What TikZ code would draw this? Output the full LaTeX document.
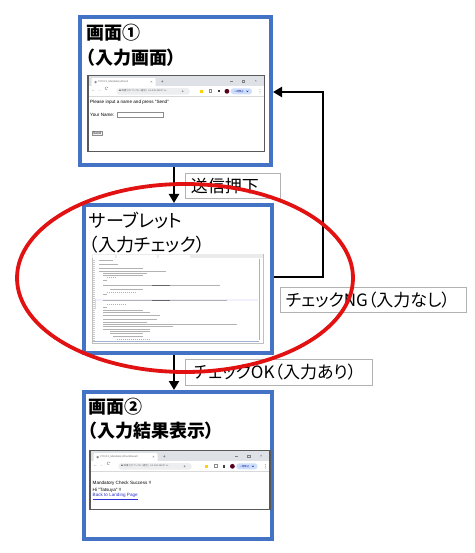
\documentclass[tikz,border=0pt]{standalone}
\usepackage{fontspec}
\setmainfont{Noto Sans CJK JP}[RawFeature=+palt]
\newfontfamily\websf{Liberation Sans}
\newfontfamily\webjp{Noto Sans CJK JP}
\usetikzlibrary{arrows.meta,shapes.geometric,calc}
\definecolor{boxblue}{RGB}{68,114,196}
\definecolor{ringred}{RGB}{226,18,18}
\definecolor{chromegray}{RGB}{222,225,230}
\definecolor{pillgray}{RGB}{236,238,240}
\definecolor{pillblue}{RGB}{205,222,250}
\definecolor{codegray}{RGB}{178,178,178}
\definecolor{linkblue}{RGB}{50,50,210}
\definecolor{scrollblue}{RGB}{160,180,210}
\tikzset{
 screenbox/.style={draw=boxblue, line width=4pt, fill=white, inner sep=0},
 titlebold/.style={anchor=west, inner sep=0, font=\fontsize{18}{18}\selectfont\bfseries},
 titleplain/.style={anchor=west, inner sep=0, font=\fontsize{18}{18}\selectfont},
 lblbox/.style={draw=black!30, line width=0.8pt, fill=white, inner sep=0},
 lbltext/.style={anchor=west, inner sep=0, font=\fontsize{17}{17}\selectfont},
 flow/.style={line width=2.6pt, -{Triangle[length=9pt,width=10pt]}},
 ring/.style={draw=ringred, line width=3.8pt, ellipse, inner sep=0},
 webtxt/.style={anchor=west, inner sep=0, font=\websf\fontsize{4.6}{5}\selectfont},
 tinytxt/.style={anchor=west, inner sep=0, font=\websf\fontsize{2.6}{3}\selectfont, text=black!60},
 tinyjp/.style={anchor=west, inner sep=0, font=\webjp\fontsize{2.4}{3}\selectfont, text=black!60},
 shotframe/.style={draw=black!65, line width=1.1pt, fill=white},
}
% browser chrome: #1 left, #2 top, #3 right, #4 name prefix, #5 tab title
\newcommand{\webchrome}[5]{%
 \fill[chromegray] (#1,#2) rectangle (#3,#2+10);
 \fill[white, rounded corners=1pt] (#1+3,#2+10.5) -- (#1+3,#2+2) -- (#1+67,#2+2) -- (#1+67,#2+10.5) -- cycle;
 \fill[black!45] (#1+7,#2+6) circle (1.3);
 \node[tinytxt] (#4tab) at (#1+9.5,#2+6) {#5};
 \node[tinytxt, font=\websf\fontsize{4}{4}\selectfont] (#4tabx) at (#1+61.5,#2+6) {×};
 \node[tinytxt, font=\websf\fontsize{5}{5}\selectfont, text=black!70] (#4plus) at (#1+72,#2+6) {+};
 \draw[black!50, line width=0.3pt] (#3-34,#2+5) -- (#3-31,#2+5);
 \draw[black!50, line width=0.3pt] (#3-22,#2+3.8) rectangle (#3-19.5,#2+6.3);
 \node[tinytxt, font=\websf\fontsize{4}{4}\selectfont] (#4winx) at (#3-9.5,#2+5) {×};
 \fill[white] (#1,#2+10) rectangle (#3,#2+20);
 \node[tinytxt, font=\websf\fontsize{4}{4}\selectfont] (#4back) at (#1+2.5,#2+15) {←};
 \node[tinytxt, font=\websf\fontsize{4}{4}\selectfont, text=black!35] (#4fwd) at (#1+8.5,#2+15) {→};
 \draw[black!55, line width=0.35pt] (#1+18.5,#2+13.5) arc (60:340:1.5);
 \fill[pillgray, rounded corners=2.5pt] (#1+28,#2+12) rectangle (#1+101,#2+18.5);
 \node[tinyjp] (#4addr) at (#1+30,#2+15.2) {▲\ 保護されていない通信\ \ |\ \ 61-326-28037.w...};
 \fill[black!40] (#1+94,#2+15.2) circle (1);
 \fill[yellow!70!orange] (#3-64,#2+13.5) rectangle (#3-61,#2+16.5);
 \draw[black!45, line width=0.3pt] (#3-55,#2+13.5) rectangle (#3-52.5,#2+16.5);
 \fill[black!75] (#3-46,#2+13.6) rectangle (#3-44,#2+16.4);
 \fill[black!55!purple] (#3-37,#2+15.2) circle (2.4);
 \fill[pillblue, rounded corners=2.5pt] (#3-33,#2+12.3) rectangle (#3-12,#2+18.2);
 \node[tinyjp, text=blue!60!black] (#4pause) at (#3-30,#2+15.2) {一時停止};
 \draw[blue!60!black, line width=0.3pt] (#3-17.5,#2+14.6) -- (#3-16.5,#2+15.6) -- (#3-15.5,#2+14.6);
 \foreach \dy in {13.5,15.2,16.9} \fill[black!55] (#3-4,#2+\dy) circle (0.4);
 \draw[black!15, line width=0.3pt] (#1,#2+20) -- (#3,#2+20);
}
\begin{document}
\begin{tikzpicture}[x=1pt,y=-1pt]
\useasboundingbox (0,0) rectangle (474,553);
\fill[white] (0,0) rectangle (474,553);

% ---------- screen boxes ----------
\node[screenbox, minimum width=191, minimum height=148] (s1) at (175.5,91) {};
\node[screenbox, minimum width=188, minimum height=148] (s2) at (178,279) {};
\node[screenbox, minimum width=188, minimum height=147] (s3) at (178,465.5) {};

% titles
\node[titlebold] (t1a) at (86,33) {画面①};
\node[titlebold] (t1b) at (86,57.5) {（入力画面）};
\node[titleplain] (t2a) at (89,220) {サーブレット};
\node[titleplain] (t2b) at (89,244.5) {（入力チェック）};
\node[titlebold] (t3a) at (88,406.5) {画面②};
\node[titlebold] (t3b) at (88,430.5) {（入力結果表示）};

% ---------- screenshot 1 ----------
\draw[shotframe] (88,75.5) rectangle (264.5,151.5);
\webchrome{88.6}{76.1}{263.9}{a}{FYIC13\_MandatoryCheck}
\node[webtxt] (p1) at (90,102.5) {Please input a name and press "Send"};
\node[webtxt] (p2) at (90,114.5) {Your Name:};
\draw[black!45, line width=0.35pt] (117,112) rectangle (163,117.5);
\node[draw=black!45, fill=black!6, line width=0.35pt, inner xsep=1.2pt, inner ysep=0.8pt, font=\websf\fontsize{3.3}{3.5}\selectfont] (sendbtn) at (97,133.3) {Send};
\draw[black!65, line width=1.1pt] (88,75.5) rectangle (264.5,151.5);

% ---------- screenshot 2 (code editor) ----------
\draw[draw=black!25, line width=0.6pt, fill=white] (92,254) rectangle (263,343);
\fill[black!8] (92.3,254.3) rectangle (262.7,258.3);
\fill[white] (93,254.8) rectangle (115,258.3);
\fill[white] (117,254.8) rectangle (157,258.3);
\fill[white] (159,254.8) rectangle (190,258.3);
\begin{scope}[shift={(90,252)}, scale=0.3333]
 \fill[blue!6] (14,141) rectangle (505,148);
 \foreach \zy in {25,31,...,265} \draw[codegray!70, line width=0.3pt] (8,\zy) -- (14,\zy);
 \fill[scrollblue!50] (15,140) rectangle (19,172);
 \foreach \zx/\zy/\zl in {28/25/40, 28/38/55, 28/50/130, 28/57/200, 40/63/130, 40/70/120, 50/77/25, 40/84/12, 40/100/350, 60/113/100, 50/120/90, 40/127/12, 40/145/370, 50/158/60, 40/166/12, 40/175/120, 40/182/140, 40/189/170, 40/203/160, 40/210/130, 40/217/400, 40/224/210, 40/231/140, 60/238/120, 60/245/100, 70/252/90, 80/262/100}
   \draw[codegray, line width=0.4pt, dash pattern=on 1.6pt off 0.4pt] (\zx,\zy) -- ++(\zl,0);
 \draw[black!60, line width=0.8pt] (185,100) -- (240,100);
 \draw[black!60, line width=0.8pt] (185,145) -- (240,145);
 \draw[scrollblue, line width=1pt] (510,20) -- (510,265);
 \draw[scrollblue, line width=1pt] (8,268) -- (508,268);
\end{scope}

% ---------- screenshot 3 ----------
\draw[shotframe] (90,450.5) rectangle (270,509.5);
\webchrome{90.6}{451.1}{269.4}{c}{FYIC13\_MandatoryCheckResult}
\node[webtxt] (r1) at (92.5,483.5) {Mandatory Check Success !!};
\node[webtxt] (r2) at (92.5,490) {Hi "Tatsuya" !!};
\node[webtxt, text=linkblue] (r3) at (92.5,496.5) {\underline{Back to Landing Page}};
\draw[black!65, line width=1.1pt] (90,450.5) rectangle (270,509.5);

% ---------- connectors ----------
\coordinate (ax) at (174,0);
\coordinate (fb) at (323,92);
\draw[flow] (s1.south -| ax) -- (s2.north -| ax);
\draw[flow] (s2.south -| ax) -- (s3.north -| ax);
\draw[flow] ($(s2.east)+(0,-2)$) -| (fb) -- (s1.east |- fb);

% ---------- labels ----------
\node[lblbox, minimum width=95, minimum height=25] (l1) at (232.5,185.5) {};
\node[lbltext] (l1t) at ($(l1.west)+(6,0.5)$) {送信押下};
\node[lblbox, minimum width=186, minimum height=25] (l2) at (373,299.5) {};
\node[lbltext] (l2t) at ($(l2.west)+(6,0.5)$) {チェックNG（入力なし）};
\node[lblbox, minimum width=187, minimum height=26] (l3) at (278.5,372) {};
\node[lbltext] (l3t) at ($(l3.west)+(8,0.5)$) {チェックOK（入力あり）};

% ---------- red ellipse ----------
\node[ring, minimum width=336, minimum height=188] (ring) at (185,278) {};
\end{tikzpicture}
\end{document}
